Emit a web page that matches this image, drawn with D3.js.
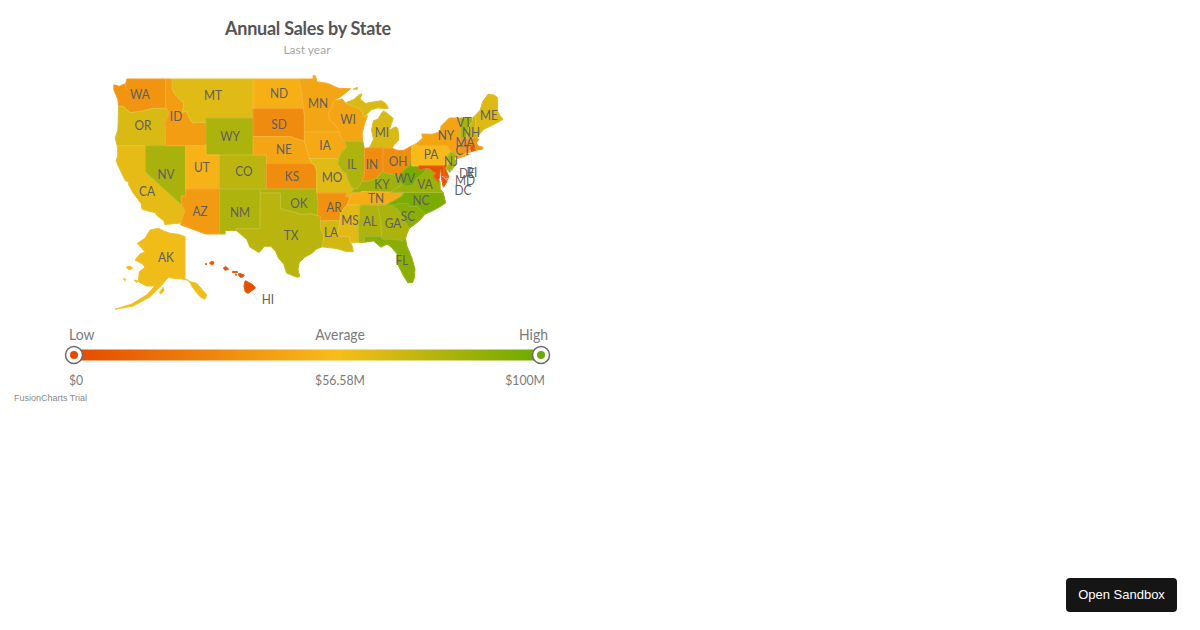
<!DOCTYPE html>
<html>
<head>
<meta charset="utf-8">
<title>Annual Sales by State</title>
<script src="https://cdn.jsdelivr.net/npm/d3@7"></script>
<style>
  html, body { margin: 0; padding: 0; background: #fff; }
  svg { display: block; }
</style>
</head>
<body>
<div class="chart"></div>
<script>
// sales per state, in $M
var stateIds = ['WA','OR','CA','NV','ID','MT','WY','UT','AZ','CO','NM','ND','SD','NE','KS','OK','TX','MN','IA','MO','AR','LA','WI','IL','MI','IN','OH','KY','TN','MS','AL','GA','FL','SC','NC','VA','WV','PA','NY','VT','NH','ME','MA','CT','RI','NJ','DE','MD','DC','AK','HI'];
var salesValues = [37,66,62,81,41,64,80,51,40,75,79,50,32,45,33,80,76,45,47,64,35,68,45,79,66,33,34,84,48,63,79,80,90,90,95,85,97,55,44,81,70,65,36,38,6,82,7,5,6,59,2];

var titleText = 'Annual Sales by State';
var subtitleText = 'Last year';
var legendStops = [0, 56.58, 100];
var legendColors = ['#e44a00', '#f8bd19', '#6baa01'];
var legendNames = ['Low', 'Average', 'High'];
var legendLabels = ['$0', '$56.58M', '$100M'];

// outlines in [lon, lat]
var outlines = {
  WA: [[[-124.7,48.4],[-123.9,48.25],[-123.1,48.5],[-122.85,47.9],[-122.95,48.5],[-122.75,49],[-117.03,49],[-117.04,46.42],[-116.92,45.99],[-118.98,46],[-119.3,45.93],[-120.5,45.7],[-121.2,45.65],[-122.3,45.55],[-122.8,45.9],[-123.2,46.15],[-124,46.25],[-124.1,46.9],[-124.7,47.9]]],
  OR: [[[-124,46.25],[-123.2,46.15],[-122.8,45.9],[-122.3,45.55],[-121.2,45.65],[-120.5,45.7],[-119.3,45.93],[-118.98,46],[-116.92,45.99],[-116.5,45.5],[-116.9,44.9],[-117.2,44.4],[-117.03,43.8],[-117.03,42],[-124.2,42],[-124.5,42.85],[-124.1,43.7],[-124.05,44.7]]],
  CA: [[[-124.2,42],[-120,42],[-120,39],[-114.63,35],[-114.13,34.27],[-114.5,33.4],[-114.72,32.72],[-117.12,32.53],[-117.3,33],[-118.4,33.75],[-118.5,34.03],[-119.2,34.15],[-120.5,34.45],[-120.65,35.15],[-121.9,36.6],[-122.5,37.5],[-122.5,37.8],[-123,38],[-123.8,39.3],[-124.35,40.3],[-124.1,41]]],
  NV: [[[-120,42],[-114.04,42],[-114.04,36.2],[-114.75,36.1],[-114.63,35],[-120,39]]],
  ID: [[[-117.03,49],[-116.05,49],[-116.05,48],[-115.7,47.5],[-114.7,46.7],[-114.3,46.65],[-114.5,45.6],[-113.9,45.65],[-113.45,44.95],[-113,44.45],[-111.5,44.55],[-111.05,44.48],[-111.05,42],[-117.03,42],[-117.03,43.8],[-117.2,44.4],[-116.9,44.9],[-116.5,45.5],[-116.92,45.99],[-117.04,46.42]]],
  MT: [[[-116.05,49],[-104.05,49],[-104.05,45],[-111.05,45],[-111.05,44.48],[-111.5,44.55],[-113,44.45],[-113.45,44.95],[-113.9,45.65],[-114.5,45.6],[-114.3,46.65],[-114.7,46.7],[-115.7,47.5],[-116.05,48]]],
  WY: [[[-111.05,45],[-104.05,45],[-104.05,41],[-111.05,41]]],
  UT: [[[-114.04,42],[-111.05,42],[-111.05,41],[-109.05,41],[-109.05,37],[-114.04,37]]],
  AZ: [[[-114.04,37],[-109.05,37],[-109.05,31.33],[-111.07,31.33],[-114.81,32.5],[-114.72,32.72],[-114.5,33.4],[-114.13,34.27],[-114.63,35],[-114.75,36.1],[-114.04,36.2]]],
  CO: [[[-109.05,41],[-102.05,41],[-102.05,37],[-109.05,37]]],
  NM: [[[-109.05,37],[-103,37],[-103.05,32],[-106.62,32],[-106.53,31.78],[-108.2,31.78],[-108.2,31.33],[-109.05,31.33]]],
  ND: [[[-104.05,49],[-97.23,49],[-96.85,47.5],[-96.56,45.94],[-104.05,45.94]]],
  SD: [[[-104.05,45.94],[-96.56,45.94],[-96.45,45.3],[-96.45,43.5],[-96.45,42.5],[-97.9,42.8],[-98.5,43],[-104.05,43]]],
  NE: [[[-104.05,43],[-98.5,43],[-97.9,42.8],[-96.45,42.5],[-96.1,41.7],[-95.9,41],[-95.31,40],[-102.05,40],[-102.05,41],[-104.05,41]]],
  KS: [[[-102.05,40],[-95.31,40],[-94.9,39.8],[-94.61,39.1],[-94.62,37],[-102.05,37]]],
  OK: [[[-103,37],[-94.62,37],[-94.43,35.4],[-94.48,33.64],[-95.5,33.9],[-97,33.8],[-98,34.1],[-99.5,34.4],[-100,34.56],[-100,36.5],[-103,36.5]]],
  TX: [[[-103,36.5],[-100,36.5],[-100,34.56],[-99.5,34.4],[-98,34.1],[-97,33.8],[-95.5,33.9],[-94.48,33.64],[-94.04,33.55],[-94.04,32],[-93.55,31.2],[-93.7,30.2],[-93.85,29.7],[-94.7,29.4],[-95.3,28.9],[-96.4,28.4],[-97.2,27.7],[-97.4,26.9],[-97.15,25.95],[-97.5,25.85],[-98.2,26.07],[-99.1,26.4],[-99.5,27.5],[-100.3,28.3],[-100.7,29.1],[-101.4,29.77],[-102.4,29.77],[-102.9,29.2],[-103.2,29],[-104.5,29.65],[-105,30.65],[-106.53,31.78],[-106.62,32],[-103.05,32]]],
  MN: [[[-97.23,49],[-95.15,49],[-95.15,49.38],[-94.8,49.3],[-94.6,48.72],[-93,48.55],[-91.4,48.05],[-89.6,48],[-90.8,47.3],[-92.1,46.75],[-92.3,46.1],[-92.85,45.6],[-92.75,44.75],[-91.9,44.3],[-91.2,43.5],[-96.45,43.5],[-96.45,45.3],[-96.56,45.94],[-96.85,47.5]]],
  WI: [[[-92.1,46.75],[-90.8,46.95],[-90.4,46.55],[-89.1,46.15],[-88.1,45.9],[-87.6,45.1],[-87.1,45.25],[-87.55,44.3],[-87.9,43.3],[-87.8,42.5],[-90.64,42.5],[-91.2,43.1],[-91.2,43.5],[-91.9,44.3],[-92.75,44.75],[-92.85,45.6],[-92.3,46.1]]],
  IA: [[[-96.45,43.5],[-91.2,43.5],[-91.2,43.1],[-90.64,42.5],[-90.15,41.95],[-90.3,41.75],[-91.1,41.2],[-91.4,40.4],[-91.7,40.6],[-95.77,40.58],[-95.9,41],[-96.1,41.7],[-96.45,42.5]]],
  MO: [[[-95.77,40.58],[-91.7,40.6],[-91.4,40.4],[-91.5,40],[-90.7,39],[-90.15,38.8],[-90.2,38.4],[-89.5,37.3],[-89.13,37],[-89.4,36.5],[-89.7,36],[-90.37,36],[-90.15,36.5],[-94.62,36.5],[-94.62,37],[-94.61,39.1],[-94.9,39.8],[-95.31,40]]],
  AR: [[[-94.62,36.5],[-90.15,36.5],[-90.37,36],[-89.7,36],[-90.1,35],[-90.6,34.6],[-91.1,33.9],[-91.17,33],[-94.04,33],[-94.04,33.55],[-94.48,33.64],[-94.43,35.4]]],
  LA: [[[-94.04,33],[-91.17,33],[-91.6,31],[-89.75,31],[-89.6,30.2],[-89.4,29.9],[-89.2,29.1],[-90.2,29.1],[-91.3,29.4],[-92.2,29.55],[-93.85,29.7],[-93.7,30.2],[-93.55,31.2],[-94.04,32]]],
  MS: [[[-90.1,35],[-88.2,35],[-88.47,31.9],[-88.4,30.3],[-89.6,30.2],[-89.75,31],[-91.6,31],[-91.17,33],[-91.1,33.9],[-90.6,34.6]]],
  AL: [[[-88.2,35],[-85.6,35],[-85.1,32.8],[-85,31],[-87.6,31],[-87.5,30.3],[-88,30.25],[-88.4,30.3],[-88.47,31.9]]],
  TN: [[[-89.4,36.5],[-88.05,36.5],[-88.05,36.68],[-83.68,36.6],[-81.68,36.59],[-82,36.1],[-84.3,35],[-90.1,35],[-89.7,36]]],
  KY: [[[-89.13,37],[-88.5,37.1],[-87.9,37.9],[-86.8,37.95],[-85.7,38.3],[-84.8,39.1],[-84.2,38.8],[-83,38.7],[-82.6,38.4],[-81.97,37.54],[-83.68,36.6],[-88.05,36.68],[-88.05,36.5],[-89.4,36.5]]],
  IL: [[[-90.64,42.5],[-87.8,42.5],[-87.55,41.7],[-87.53,39.35],[-87.6,38.7],[-87.9,37.9],[-88.5,37.1],[-89.13,37],[-89.5,37.3],[-90.2,38.4],[-90.15,38.8],[-90.7,39],[-91.5,40],[-91.4,40.4],[-91.1,41.2],[-90.3,41.75],[-90.15,41.95]]],
  IN: [[[-87.55,41.7],[-87.2,41.76],[-84.8,41.76],[-84.8,39.1],[-85.7,38.3],[-86.8,37.95],[-87.9,37.9],[-87.6,38.7],[-87.53,39.35]]],
  OH: [[[-84.8,41.76],[-83.45,41.73],[-82.7,41.5],[-81.7,41.5],[-80.52,42],[-80.52,40.64],[-80.85,39.7],[-81.7,39.2],[-82.2,38.6],[-82.6,38.4],[-83,38.7],[-84.2,38.8],[-84.8,39.1]]],
  MI: [[[-90.4,46.55],[-89.1,46.9],[-88.4,47.35],[-87.9,47.47],[-88.2,46.95],[-87.4,46.5],[-86.2,46.65],[-85,46.77],[-84.4,46.5],[-84,46],[-84.7,45.95],[-85.5,46.05],[-86.5,45.85],[-87.6,45.1],[-88.1,45.9],[-89.1,46.15]],
       [[-86.82,41.76],[-84.8,41.76],[-83.45,41.73],[-83.15,42.1],[-82.5,42.6],[-82.45,43],[-82.6,43.9],[-83,44.05],[-83.9,43.65],[-83.3,44.9],[-83.4,45.05],[-84.7,45.75],[-85.1,45.4],[-85.5,44.9],[-86.2,44.7],[-86.5,43.7],[-86.2,42.7]],
       [[-89.2,47.95],[-88.6,48.15],[-88.6,47.95]]],
  GA: [[[-85.6,35],[-83.1,35],[-83.35,34.7],[-82.6,34.5],[-81.9,33.5],[-81.4,32.7],[-80.9,32.05],[-81.3,31.2],[-81.45,30.72],[-82.05,30.36],[-82.2,30.57],[-84.86,30.7],[-85,31],[-85.1,32.8]]],
  FL: [[[-87.6,31],[-85,31],[-84.86,30.7],[-82.2,30.57],[-82.05,30.36],[-81.45,30.72],[-81.25,29.8],[-80.55,28.4],[-80.05,26.9],[-80.15,25.75],[-80.4,25.2],[-81.1,25.15],[-81.8,26.1],[-82.7,27.7],[-82.7,28.8],[-83.6,29.7],[-84.2,30.05],[-85.1,29.65],[-86.2,30.45],[-87.5,30.3]]],
  SC: [[[-83.1,35],[-82.3,35.2],[-81,35.15],[-80.8,34.82],[-79.67,34.8],[-78.55,33.87],[-79.2,33.2],[-80,32.6],[-80.9,32.05],[-81.4,32.7],[-81.9,33.5],[-82.6,34.5],[-83.35,34.7]]],
  NC: [[[-84.3,35],[-82,36.1],[-81.68,36.59],[-75.87,36.55],[-75.5,35.25],[-76.5,34.7],[-77.6,34.2],[-78.55,33.87],[-79.67,34.8],[-80.8,34.82],[-81,35.15],[-82.3,35.2],[-83.1,35]]],
  VA: [[[-83.68,36.6],[-81.97,37.54],[-81.3,37.3],[-80.3,37.5],[-79.9,38.2],[-78.9,38.8],[-78.35,39.4],[-77.75,39.3],[-77.05,38.85],[-77.3,38.4],[-76.35,37.95],[-76.3,37],[-75.87,36.55],[-81.68,36.59]]],
  WV: [[[-81.97,37.54],[-82.6,38.4],[-82.2,38.6],[-81.7,39.2],[-80.85,39.7],[-80.52,40.64],[-80.52,39.72],[-79.48,39.72],[-79.48,39.2],[-78.4,39.45],[-77.75,39.3],[-78.35,39.4],[-78.9,38.8],[-79.9,38.2],[-80.3,37.5],[-81.3,37.3]]],
  MD: [[[-79.48,39.72],[-75.79,39.72],[-75.7,38.46],[-75.05,38.45],[-75.35,37.8],[-75.85,37.2],[-76.1,38.2],[-76.2,39.3],[-76.3,39.2],[-76.4,38.4],[-76.6,37.85],[-77.3,38.4],[-77.05,38.85],[-77.75,39.3],[-78.4,39.45],[-79.48,39.2]]],
  DE: [[[-75.79,39.72],[-75.4,39.8],[-75.55,39.45],[-75.05,38.45],[-75.7,38.46]]],
  DC: [[[-77.12,38.93],[-77.04,39],[-76.91,38.89],[-77.04,38.8]]],
  PA: [[[-80.52,42],[-79.76,42.27],[-79.76,42],[-75.35,42],[-74.7,41.35],[-75.13,40.95],[-75.2,40.65],[-74.72,40.15],[-75.4,39.8],[-75.79,39.72],[-80.52,39.72],[-80.52,40.64]]],
  NJ: [[[-74.7,41.35],[-73.9,41],[-74.25,40.5],[-74,40.4],[-74.1,39.75],[-74.9,38.95],[-75.5,39.5],[-74.72,40.15],[-75.2,40.65],[-75.13,40.95]]],
  NY: [[[-79.76,42],[-79.76,42.27],[-78.9,42.85],[-79.05,43.27],[-77.5,43.25],[-76.3,43.5],[-76.2,44.1],[-75,44.97],[-74.7,45],[-73.35,45],[-73.25,43.6],[-73.3,42.75],[-73.5,42.05],[-73.5,41.3],[-73.65,41],[-72,41.05],[-73.7,40.6],[-74,40.7],[-73.9,41],[-74.7,41.35],[-75.35,42]]],
  VT: [[[-73.35,45],[-71.5,45],[-71.55,44.6],[-72.05,44.1],[-72.35,43.2],[-72.46,42.73],[-73.3,42.75],[-73.25,43.6]]],
  NH: [[[-71.5,45],[-71.08,45.3],[-70.98,43.4],[-70.7,43.07],[-70.82,42.87],[-72.46,42.73],[-72.35,43.2],[-72.05,44.1],[-71.55,44.6]]],
  ME: [[[-71.08,45.3],[-70.4,45.8],[-70,46.7],[-69.2,47.45],[-68.3,47.35],[-67.8,47.07],[-67.8,45.7],[-67.45,45.25],[-67,44.85],[-68.5,44.25],[-69.8,43.8],[-70.7,43.07],[-70.98,43.4]]],
  MA: [[[-73.5,42.05],[-73.3,42.75],[-72.46,42.73],[-70.82,42.87],[-70.6,42.65],[-71,42.3],[-70.6,41.95],[-70,41.85],[-70,41.65],[-70.65,41.55],[-71.12,41.5],[-71.38,42.02],[-71.8,42.02]]],
  CT: [[[-73.5,42.05],[-71.8,42.02],[-71.85,41.32],[-73.65,41],[-73.5,41.3]]],
  RI: [[[-71.8,42.02],[-71.38,42.02],[-71.12,41.5],[-71.85,41.32]]]
};

// Alaska inset, in inset units as the source map bends it
var alaskaOutline = [
  [[40.3,1.3],[45.3,0.3],[50.3,2.7],[57,5.3],[65.3,6.3],[72,8.7],[72,51],[77,53.7],[83.7,55.3],[93.7,67],[92,71.3],[87,68.7],[80.3,60.3],[75.3,52],[68.7,51],[60.3,50.3],[55.3,49.3],[50.3,55.3],[48.7,57],[37,68.7],[20.3,78],[2,81.3],[18.7,76],[33.7,67],[42,58],[33.7,58],[25.3,53.7],[26.3,43.7],[32,39.3],[29.7,36],[22,32],[27,26],[32,23.7],[24.3,15.3],[32,10.3],[37,2]],
  [[13,39.3],[17,38],[19.7,40.3],[16.3,41.7]],
  [[10.3,50.7],[13,51.3],[11.7,52.7]],
  [[21.3,52],[25.3,53],[23,54.3]],
  [[46.3,64.7],[50.3,59.3],[51,62.7],[47.7,66]]
];
var hawaiiOutline = [
  [[-160.25,21.95],[-160.1,22],[-160.1,21.85]],
  [[-159.78,22.05],[-159.55,22.22],[-159.3,22.15],[-159.35,21.93],[-159.6,21.9]],
  [[-158.27,21.55],[-158,21.7],[-157.7,21.4],[-158.1,21.3]],
  [[-157.3,21.2],[-156.75,21.17],[-156.75,21.08],[-157.3,21.08]],
  [[-157,20.9],[-156.85,20.9],[-156.9,20.75]],
  [[-156.7,20.9],[-156.5,21],[-156,20.8],[-156.2,20.6],[-156.45,20.6]],
  [[-155.9,20.25],[-155.6,20.1],[-155.1,19.85],[-154.8,19.5],[-155.6,18.95],[-155.9,19.1],[-156.05,19.7]]
];

// where each state's label sits on the page
var labelPos = {
  WA:[140,94],OR:[143,125],CA:[147,191],NV:[166,174],ID:[176,116],MT:[213,95],WY:[230,136],UT:[202,167],AZ:[200,211],CO:[244,171],NM:[240,212],
  ND:[279,93],SD:[279,124],NE:[284,149],KS:[292,176],OK:[299,203],TX:[291,235],MN:[318,103],IA:[325,145],MO:[332,177],AR:[334,207],LA:[331,232],
  WI:[348,119],IL:[352,164],MI:[382,132],IN:[372,164],OH:[398,161],KY:[382,184],TN:[376,198],MS:[350,220],AL:[370,221],GA:[393,223],FL:[402,260],
  SC:[408,216],NC:[421,200],VA:[425,184],WV:[405,178],PA:[431,154],NY:[446,135],VT:[464,122],NH:[471,132],ME:[489,115],MA:[465,142],CT:[463,150],
  NJ:[451,161],RI:[472,172],DE:[467,173],MD:[465,180],DC:[463,190],AK:[166,257],HI:[268,299]
};

var width = 1200, height = 630;
var labelFont = 'Lato, "Noto Sans", sans-serif';

var svg = d3.select('.chart')
    .append('svg')
    .attr('width', width)
    .attr('height', height);

var colorScale = d3.scaleLinear().domain(legendStops).range(legendColors);

// the lower 48 are drawn on a near flat grid, latitude spacing grows to the north
var lonScale = d3.scaleLinear().domain([-114, -67]).range([186, 503]);
var latScale = d3.scaleLinear().domain([25, 35, 37, 41, 45, 49]).range([284, 205, 189, 155, 118, 79]);
var akX = d3.scaleLinear().domain([0, 95]).range([113, 208]);
var akY = d3.scaleLinear().domain([0, 83]).range([228, 311]);
var hiX = d3.scaleLinear().domain([-155.5, -154.5]).range([249, 258.25]);
var hiY = d3.scaleLinear().domain([19.6, 20.6]).range([287, 277.2]);

function pathFor(xs, ys) {
    return d3.geoPath(d3.geoTransform({
        point: function (x, y) { this.stream.point(xs(x), ys(y)); }
    }));
}
var paths = {
    main: pathFor(lonScale, latScale),
    AK: pathFor(akX, akY),
    HI: pathFor(hiX, hiY)
};

function shapeOf(id) {
    var rings = id === 'AK' ? alaskaOutline : id === 'HI' ? hawaiiOutline : outlines[id];
    return {
        type: 'MultiPolygon',
        coordinates: rings.map(function (r) { return [r.concat([r[0]])]; })
    };
}
function stateD(d) { return (paths[d.id] || paths.main)(shapeOf(d.id)); }

var states = stateIds.map(function (id, i) {
    return { id: id, value: salesValues[i] };
});

// a stroke in the state's own colour closes the seams and fattens the coast a bit
svg.append('g').selectAll('path')
    .data(states)
    .enter()
    .append('path')
    .attr('d', stateD)
    .style('fill', function (d) { return colorScale(d.value); })
    .style('stroke', function (d) { return colorScale(d.value); })
    .style('stroke-width', 1);

svg.append('g').selectAll('path')
    .data(states)
    .enter()
    .append('path')
    .attr('d', stateD)
    .style('fill', 'none')
    .style('stroke', '#fff')
    .style('stroke-opacity', 0.15)
    .style('stroke-width', 0.6);

// thin leader lines for labels pushed off the small states
var leaders = [['HI', 253, 292, 257, 300], ['MD', 446, 178, 456, 180], ['DC', 442, 176, 456, 188], ['DE', 450, 170, 460, 172], ['RI', 470, 150, 472, 166]];
svg.append('g').selectAll('line')
    .data(leaders)
    .enter()
    .append('line')
    .attr('x1', function (d) { return d[1]; })
    .attr('y1', function (d) { return d[2]; })
    .attr('x2', function (d) { return d[3]; })
    .attr('y2', function (d) { return d[4]; })
    .style('stroke', '#e4e4e4')
    .style('stroke-width', 0.7);

// Lato runs wider than the original face, so squeeze the glyphs to fit
function squeeze(sel, factor) {
    sel.each(function () {
        var len = this.getComputedTextLength();
        d3.select(this)
            .attr('textLength', len * factor)
            .attr('lengthAdjust', 'spacingAndGlyphs');
    });
}

svg.append('g').selectAll('text')
    .data(states)
    .enter()
    .append('text')
    .attr('x', function (d) { return labelPos[d.id][0]; })
    .attr('y', function (d) { return labelPos[d.id][1]; })
    .attr('dy', '0.35em')
    .attr('text-anchor', 'middle')
    .style('font-family', labelFont)
    .style('font-size', '13.5px')
    .style('fill', '#5f5f5f')
    .text(function (d) { return d.id; })
    .call(squeeze, 0.88);

// heading
svg.append('text')
    .attr('x', 308).attr('y', 35)
    .attr('text-anchor', 'middle')
    .attr('textLength', 166)
    .style('font-family', labelFont)
    .style('font-size', '18px')
    .style('font-weight', 700)
    .style('fill', '#555')
    .text(titleText);
svg.append('text')
    .attr('x', 307).attr('y', 54)
    .attr('text-anchor', 'middle')
    .style('font-family', labelFont)
    .style('font-size', '12px')
    .style('fill', '#a5a5a5')
    .text(subtitleText);

// legend
var legendScale = d3.scaleLinear().domain([0, 100]).range([74, 541]);
var grad = svg.append('defs').append('linearGradient').attr('id', 'legendGrad');
grad.selectAll('stop')
    .data(legendStops)
    .enter()
    .append('stop')
    .attr('offset', function (d) { return d + '%'; })
    .attr('stop-color', function (d) { return colorScale(d); });

var legendY = 355;
svg.append('rect')
    .attr('x', legendScale(0))
    .attr('y', legendY - 5.5)
    .attr('width', legendScale(100) - legendScale(0))
    .attr('height', 11)
    .style('fill', 'url(#legendGrad)');

var ends = [legendStops[0], legendStops[2]];
svg.append('g').selectAll('circle')
    .data(ends)
    .enter()
    .append('circle')
    .attr('cx', function (d) { return legendScale(d); })
    .attr('cy', legendY)
    .attr('r', 8.5)
    .style('fill', '#fff')
    .style('stroke', '#6a6a6a')
    .style('stroke-width', 1.5);
svg.append('g').selectAll('circle')
    .data(ends)
    .enter()
    .append('circle')
    .attr('cx', function (d) { return legendScale(d); })
    .attr('cy', legendY)
    .attr('r', 4)
    .style('fill', function (d) { return colorScale(d); });

var legendTextX = [69, 340, 548];
var legendValueX = [69, 340, 545];
var anchors = ['start', 'middle', 'end'];
legendNames.forEach(function (name, i) {
    svg.append('text')
        .attr('x', legendTextX[i]).attr('y', 340)
        .attr('text-anchor', anchors[i])
        .style('font-family', labelFont)
        .style('font-size', '15px')
        .style('fill', '#7b7b7b')
        .text(name)
        .call(squeeze, 0.93);
    svg.append('text')
        .attr('x', legendValueX[i]).attr('y', 385)
        .attr('text-anchor', anchors[i])
        .style('font-family', labelFont)
        .style('font-size', '14px')
        .style('fill', '#7b7b7b')
        .text(legendLabels[i])
        .call(squeeze, 0.875);
});

svg.append('text')
    .attr('x', 14).attr('y', 401)
    .style('font-family', '"Liberation Sans", Arial, sans-serif')
    .style('font-size', '9px')
    .style('fill', '#8a8a8a')
    .text('FusionCharts Trial');

// sandbox button in the corner
svg.append('rect')
    .attr('x', 1066).attr('y', 578)
    .attr('width', 111).attr('height', 34)
    .attr('rx', 4)
    .style('fill', '#151515');
svg.append('text')
    .attr('x', 1121.5).attr('y', 599)
    .attr('text-anchor', 'middle')
    .style('font-family', '"Liberation Sans", Arial, sans-serif')
    .style('font-size', '13px')
    .style('fill', '#fff')
    .text('Open Sandbox');
</script>
</body>
</html>
